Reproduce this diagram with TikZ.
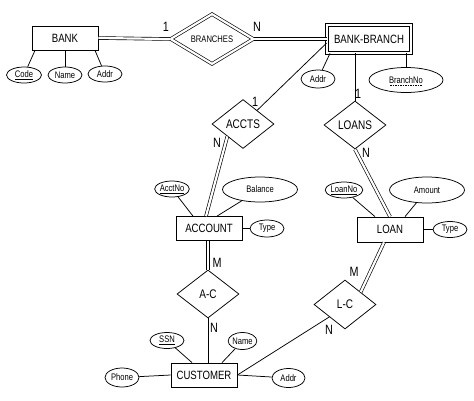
\documentclass[tikz,border=0pt]{standalone}
\usepackage{fontspec}
\setmainfont{Liberation Sans}[FakeStretch=0.8]
\usetikzlibrary{shapes.geometric}
\begin{document}
\begin{tikzpicture}[x=1pt,y=-1pt,
  every path/.style={line width=0.75pt},
  entity/.style={draw, rectangle, inner sep=0, minimum width=66, minimum height=24, font=\fontsize{12}{13}\selectfont},
  attr/.style={draw, ellipse, inner sep=0, minimum width=34, minimum height=17, font=\fontsize{9.5}{10}\selectfont},
  rel/.style={draw, diamond, inner sep=0, minimum width=62, minimum height=49, font=\fontsize{12.5}{13}\selectfont},
  dbl/.style={double, double distance=2.2pt, line width=0.65pt},
  card/.style={inner sep=0, font=\fontsize{13.5}{14}\selectfont}]
\useasboundingbox (0,0) rectangle (474,400);
% entities
\node[entity] (bank) at (65,38) {BANK};
\node[entity, dbl, minimum width=84, minimum height=28] (bb) at (369,39) {BANK-BRANCH};
\node[entity] (account) at (209,228.5) {ACCOUNT};
\node[entity, minimum height=25] (loan) at (390,229.5) {LOAN};
\node[entity] (customer) at (204,375) {CUSTOMER};
% relationships
\node[rel, dbl, minimum width=83, minimum height=50, font=\fontsize{9.5}{10}\selectfont] (branches) at (212,39) {BRANCHES};
\node[rel] (accts) at (243,124) {ACCTS};
\node[rel, minimum height=48] (loans) at (355,125) {LOANS};
\node[rel, minimum height=48] (ac) at (208,294) {A-C};
\node[rel] (lc) at (345,304.5) {L-C};
% attributes
\node[attr, minimum width=35, minimum height=16] (code) at (24,75) {\underline{Code}};
\node[attr, minimum height=16] (bname) at (65,75) {Name};
\node[attr, minimum height=16] (baddr) at (105,74) {Addr};
\node[attr, minimum height=18] (bbaddr) at (318,79) {Addr};
\node[attr, minimum width=74, minimum height=25] (bno) at (406,80) {BranchNo};
\draw[dashed, line width=0.5pt, dash pattern=on 1.5pt off 1pt] ([xshift=-16,yshift=-5]bno.center) -- ([xshift=16,yshift=-5]bno.center);
\node[attr, minimum width=33, minimum height=16] (acctno) at (172,189) {\underline{AcctNo}};
\node[attr, minimum width=75, minimum height=25] (balance) at (260,189.5) {Balance};
\node[attr] (atype) at (267,228.5) {Type};
\node[attr, minimum width=32, minimum height=16] (loanno) at (344,190) {\underline{LoanNo}};
\node[attr, minimum width=75, minimum height=26] (amount) at (427,190) {Amount};
\node[attr, minimum height=16] (ltype) at (450,229.5) {Type};
\node[attr, minimum height=16] (ssn) at (167,340.5) {\underline{SSN}};
\node[attr, minimum width=28] (cname) at (242.5,341) {Name};
\node[attr, minimum height=19] (phone) at (122,377.5) {Phone};
\node[attr, minimum width=33, minimum height=19] (caddr) at (288.5,378) {Addr};
% attribute links
\draw (code) -- ([xshift=-30]bank.south);
\draw (bname) -- (bank.south);
\draw (baddr) -- ([xshift=30]bank.south);
\draw (bbaddr) -- ([xshift=-39]bb.south);
\draw (bno.north) -- (bno.north |- bb.south);
\draw (acctno) -- ([xshift=-16]account.north);
\draw (balance) -- ([xshift=8]account.north);
\draw (atype) -- (account.east);
\draw (loanno) -- ([xshift=-15]loan.north);
\draw (amount) -- ([xshift=15]loan.north);
\draw (ltype) -- (loan.east);
\draw (ssn) -- ([xshift=-12]customer.north);
\draw (cname) -- ([xshift=18]customer.north);
\draw (phone) -- (customer.west);
\draw (caddr) -- (customer.east);
% relationship links
\draw[dbl] (bank.east) -- (branches.west);
\draw[dbl] (branches.east) -- (bb.west);
\draw ([yshift=-4]bb.west) -- (accts);
\draw (bb.south -| loans) -- (loans.north);
\draw[dbl] (accts.south west) -- ([xshift=-3]account.north);
\draw[dbl] (loans.south) -- (loan.north);
\draw[dbl] (ac.north |- account.south) -- (ac.north);
\draw (ac.south) -- (ac.south |- customer.north);
\draw[dbl] ([xshift=-6]loan.south) -- (lc.north east);
\draw (lc.south west) -- (customer.east);
% cardinalities
\node[card] (c1) at (166,27) {1};
\node[card] (c2) at (257,27) {N};
\node[card] (c3) at (255,102) {1};
\node[card] (c4) at (217,143) {N};
\node[card] (c5) at (358,94) {1};
\node[card] (c6) at (366,153) {N};
\node[card] (c7) at (217,263) {M};
\node[card] (c8) at (214,328) {N};
\node[card] (c9) at (354,272) {M};
\node[card] (c10) at (329,330) {N};
\end{tikzpicture}
\end{document}
